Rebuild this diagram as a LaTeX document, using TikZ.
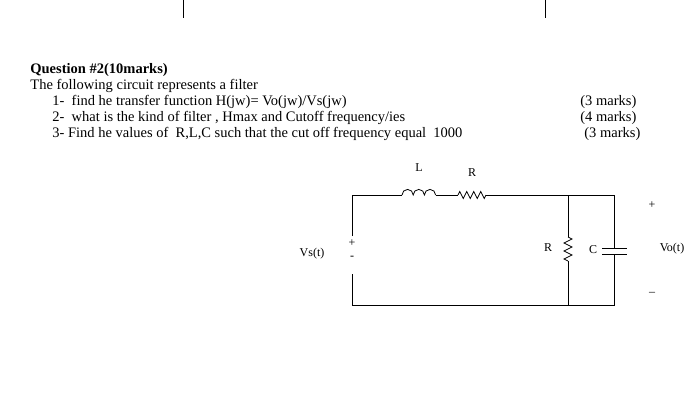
\documentclass[tikz,border=0pt]{standalone}
\usepackage{fontspec}
\setmainfont{Liberation Serif}
\usetikzlibrary{decorations.pathmorphing}
\begin{document}
\begin{tikzpicture}[x=1pt,y=-1pt,line width=0.8pt,
 txt/.style={anchor=west,inner sep=0,font=\fontsize{14.5}{16}\selectfont},
 lbl/.style={inner sep=0,font=\fontsize{12}{14}\selectfont}]
\useasboundingbox (0,0) rectangle (700,402);
\draw (183,0) -- (183,18);
\draw (545,0) -- (545,18);
\node[txt,font=\fontsize{14.5}{16}\selectfont\bfseries] (q) at (30,70) {Question \#2(10marks)};
\node[txt] (l0) at (30,86) {The following circuit represents a filter};
\node[txt] (l1) at (52,102) {1-\ \ find he transfer function H(jw)= Vo(jw)/Vs(jw)};
\node[txt] (l2) at (52,118) {2-\ \ what is the kind of filter , Hmax and Cutoff frequency/ies};
\node[txt] (l3) at (52,134) {3- Find he values of\ \ R,L,C such that the cut off frequency equal\ \ 1000};
\node[txt] (m1) at (580,102) {(3 marks)};
\node[txt] (m2) at (580,118) {(4 marks)};
\node[txt] (m3) at (584,134) {(3 marks)};
% circuit
\coordinate (tl) at (352,195); \coordinate (bl) at (352,305);
\coordinate (tr) at (614,195); \coordinate (br) at (614,305);
\draw (352,236) -- (tl) -- (402,195);
\draw (402,195) arc (180:360:5.6) arc (180:360:5.6) arc (180:360:5.6);
\draw (435.6,195) -- (458,195);
\draw[decorate,decoration={zigzag,segment length=7,amplitude=3.5}] (458,195) -- (486,195);
\draw (486,195) -- (tr) -- (614,248);
\draw (602,248) -- (627,248); \draw (602,254) -- (627,254);
\draw (614,254) -- (br) -- (bl) -- (352,274);
\draw (568,195) -- (568,237);
\draw[decorate,decoration={zigzag,segment length=8,amplitude=4}] (568,237) -- (568,261);
\draw (568,261) -- (568,305);
\node[lbl] (vs) at (312,254) {Vs(t)};
\node[lbl] (p1) at (352,243) {+};
\node[lbl] (n1) at (352,258) {-};
\node[lbl] (L) at (419,168) {L};
\node[lbl] (R1) at (472,173) {R};
\node[lbl] (R2) at (548,248) {R};
\node[lbl] (C) at (593,250) {C};
\node[lbl] (vo) at (672,249) {Vo(t)};
\node[lbl] (p2) at (652,205) {+};
\node[lbl] (n2) at (652,294) {--};
\end{tikzpicture}
\end{document}
